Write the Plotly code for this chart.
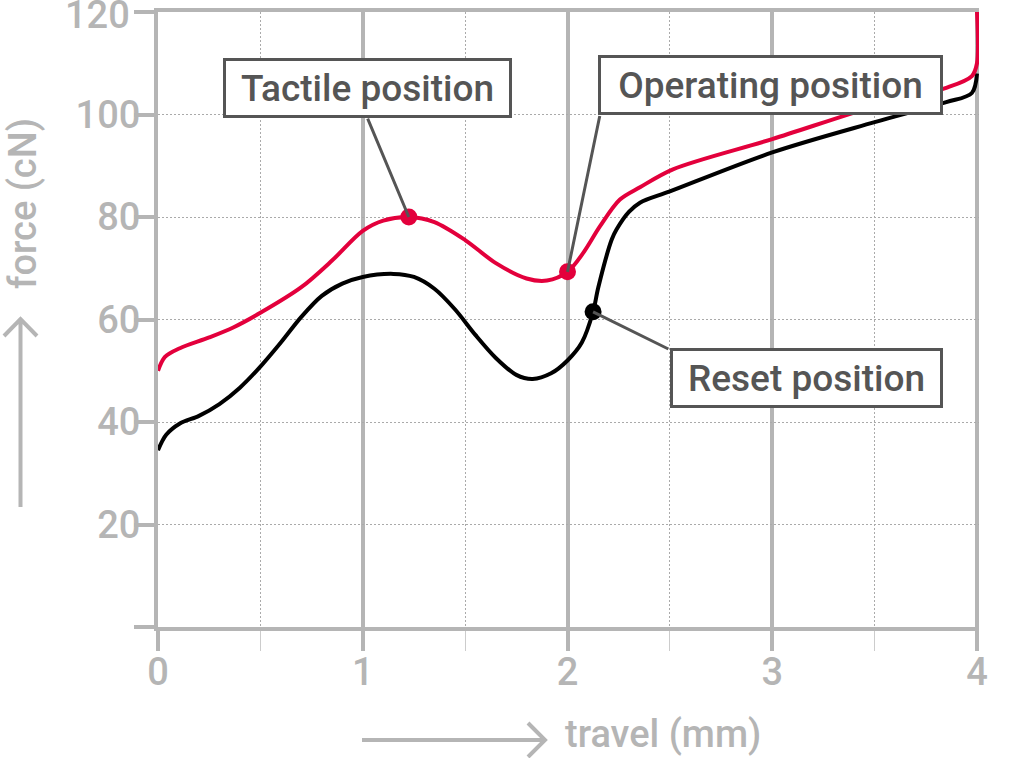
import plotly.graph_objects as go

# ---- data ----
red_x = [0, 0.034, 0.107, 0.25, 0.37, 0.5, 0.7, 0.85, 1.0, 1.1, 1.225, 1.35, 1.5, 1.65, 1.8, 1.9, 2.0,
         2.077, 2.159, 2.256, 2.354, 2.515, 3.0, 3.5, 3.85, 3.975, 4.0, 4.0]
red_y = [50, 52.7, 54.4, 56.5, 58.5, 61.3, 66.3, 71.5, 77.3, 79.3, 80.0, 79.0, 75.5, 71.0, 68.0, 67.6, 69.3,
         73.0, 78.2, 83.4, 85.8, 89.3, 95.2, 101.6, 105.2, 107.5, 110, 120]

black_x = [0, 0.04, 0.107, 0.2, 0.3, 0.4, 0.5, 0.6, 0.7, 0.8, 0.9, 1.0, 1.15, 1.25, 1.35, 1.45, 1.55,
           1.65, 1.75, 1.83, 1.92, 2.0, 2.07, 2.125, 2.15, 2.216, 2.24, 2.3, 2.354, 2.5, 3.0, 3.5,
           3.85, 3.975, 4.0]
black_y = [34.5, 37.5, 39.7, 41.2, 43.5, 46.7, 50.8, 55.5, 60.5, 64.6, 67.0, 68.3, 68.9, 68.3, 66.0,
           62.0, 57.0, 52.5, 49.2, 48.4, 49.5, 52.0, 55.5, 61.5, 66.2, 75.6, 77.6, 81.0, 82.8, 85.0,
           92.6, 98.5, 102.4, 104.2, 108]

tactile_pt = (1.225, 80.0)
operating_pt = (2.0, 69.3)
reset_pt = (2.125, 61.5)

x_ticks = [0, 1, 2, 3, 4]
y_ticks = [0, 20, 40, 60, 80, 100, 120]
y_ticktext = ["", "20", "40", "60", "80", "100", ""]
top_label = "120"   # drawn slightly lower than its tick so it stays inside the page

labels = ["Tactile position", "Operating position", "Reset position"]

# ---- style ----
GRAY = "#b5b5b5"
DOT = "#aaaaaa"
DARK = "#555555"
RED = "#e3003c"
FONT = "Roboto, sans-serif"

fig = go.Figure()
fig.add_trace(go.Scatter(x=black_x, y=black_y, mode="lines",
                         line=dict(color="#000000", width=4, shape="spline", smoothing=0.9),
                         hoverinfo="skip", showlegend=False))
fig.add_trace(go.Scatter(x=red_x, y=red_y, mode="lines",
                         line=dict(color=RED, width=4, shape="spline", smoothing=0.9),
                         hoverinfo="skip", showlegend=False))
fig.add_trace(go.Scatter(x=[tactile_pt[0], operating_pt[0]], y=[tactile_pt[1], operating_pt[1]],
                         mode="markers", marker=dict(color=RED, size=17),
                         hoverinfo="skip", showlegend=False))
fig.add_trace(go.Scatter(x=[reset_pt[0]], y=[reset_pt[1]],
                         mode="markers", marker=dict(color="#000000", size=17),
                         hoverinfo="skip", showlegend=False))

L, R, T, B = 158, 45, 12, 131
W, H = 1024, 758
PW, PH = W - L - R, H - T - B


def px(xp):
    return (xp - L) / PW


def py(yp):
    return (T + PH - yp) / PH


# label boxes (text) and leader lines
boxes = [
    (labels[0], 367.5, 88, 283),
    (labels[1], 770.5, 85, 339),
    (labels[2], 806.5, 378, 267),
]
annotations = []
for text, cx, cy, w in boxes:
    annotations.append(dict(text=text, x=px(cx), y=py(cy), xref="paper", yref="paper",
                            xanchor="center", yanchor="middle", showarrow=False,
                            width=w, height=54, borderwidth=3, borderpad=0,
                            bordercolor=DARK, bgcolor="white",
                            font=dict(family=FONT, size=37, color=DARK, weight=500)))

leaders = [
    (tactile_pt, 1.021, 99.5),
    (operating_pt, 2.159, 100.0),
    (reset_pt, 2.50, 54.1),
]
for (xx, yy), ax, ay in leaders:
    annotations.append(dict(text="", x=xx, y=yy, xref="x", yref="y", ax=ax, ay=ay,
                            axref="x", ayref="y", showarrow=True, arrowhead=0,
                            arrowwidth=3, arrowcolor=DARK, standoff=0, startstandoff=0))

tickfont = dict(family=FONT, size=38, color=GRAY, weight=500)

# top y tick label
annotations.append(dict(text=top_label, x=px(131), y=py(15), xref="paper", yref="paper",
                        xanchor="right", yanchor="middle", showarrow=False, font=tickfont,
                        borderpad=0))

# axis titles
TITLEFONT = dict(family=FONT, size=38, color=GRAY, weight=500)
annotations.append(dict(text="travel (mm)", x=px(563), y=py(734), xref="paper", yref="paper",
                        xanchor="left", yanchor="middle", showarrow=False, font=TITLEFONT))
annotations.append(dict(text="force (cN)", x=px(23), y=py(204), xref="paper", yref="paper",
                        xanchor="center", yanchor="middle", showarrow=False, textangle=-90,
                        font=TITLEFONT))

shapes = [
    dict(type="path", xref="paper", yref="paper",
         path=f"M {px(362)},{py(740)} L {px(545)},{py(740)} M {px(528)},{py(723)} L {px(545)},{py(740)} L {px(528)},{py(757)}",
         line=dict(color=GRAY, width=4)),
    dict(type="path", xref="paper", yref="paper",
         path=f"M {px(20.5)},{py(507)} L {px(20.5)},{py(319)} M {px(4)},{py(336)} L {px(20.5)},{py(319)} L {px(37)},{py(336)}",
         line=dict(color=GRAY, width=4)),
]

fig.update_layout(
    width=W, height=H,
    margin=dict(l=L, r=R, t=T, b=B, pad=0, autoexpand=False),
    plot_bgcolor="white", paper_bgcolor="white",
    annotations=annotations, shapes=shapes,
    showlegend=False,
    xaxis=dict(range=[0, 4 * PW / 819], tickvals=x_ticks, ticks="outside", ticklen=20,
               tickwidth=4, tickcolor=GRAY, showline=True, linecolor=GRAY, linewidth=4,
               mirror=True, showgrid=True, gridcolor=GRAY, gridwidth=4, zeroline=False,
               tickfont=tickfont, ticklabelstandoff=-12, ticklabeloverflow="allow",
               automargin=False,
               minor=dict(dtick=0.5, tick0=0, showgrid=True, gridcolor=DOT, gridwidth=1,
                          griddash="2px,2px", ticks="outside", ticklen=20, tickwidth=1,
                          tickcolor="#cccccc")),
    yaxis=dict(range=[0, 120], tickvals=y_ticks, ticktext=y_ticktext, ticks="outside",
               ticklen=20, tickwidth=4, tickcolor=GRAY, showline=True, linecolor=GRAY,
               linewidth=4, showgrid=True, gridcolor=DOT, gridwidth=1, griddash="2px,2px",
               zeroline=False, tickfont=tickfont, ticklabelstandoff=-14,
               ticklabeloverflow="allow", automargin=False),
)

fig.write_html("out.html")
